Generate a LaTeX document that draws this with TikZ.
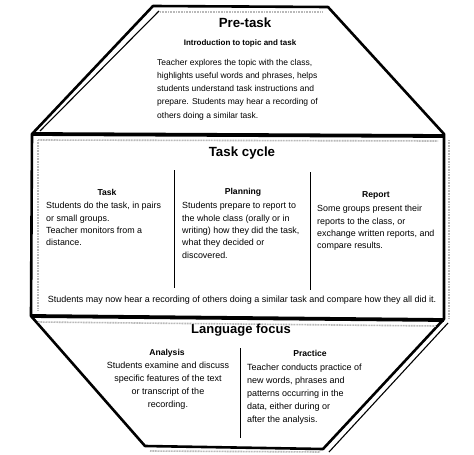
\documentclass[tikz,border=0pt]{standalone}
\usepackage{fontspec}
\setmainfont{Liberation Sans}
\begin{document}
\begin{tikzpicture}[x=1pt,y=1pt,yscale=-1,xscale=1,
    outline/.style={line width=2.6pt, line join=round},
    bar/.style={line width=3.8pt},
    shade/.style={color=gray!55, line width=1.6pt, dash pattern={on 1pt off 0.6pt}},
    thinline/.style={line width=1.1pt},
    divider/.style={line width=0.7pt},
    stagehead/.style={font=\fontsize{13.3}{15}\selectfont\bfseries, inner sep=0},
    subhead/.style={font=\fontsize{8.6}{10}\selectfont\bfseries, inner sep=0},
    bodytext/.style={font=\fontsize{8.5}{13.2}\selectfont, align=left, inner sep=0, anchor=north west},
    cyclebody/.style={bodytext, font=\fontsize{8.9}{12.4}\selectfont},
    focusbody/.style={bodytext, font=\fontsize{9}{12.9}\selectfont}]
        \useasboundingbox (0,0) rectangle (474,455);
        % octagon outline
        \draw [outline] (153,6) -- (328,7) -- (444,134) -- (444,319) -- (323,449) -- (145,446) -- (31,316) -- (32,134) -- cycle ;
        % task cycle box, top and bottom bars
        \draw [bar] (32,134) -- (444,136) ;
        \draw [bar] (31,316) -- (444,320) ;
        % second lines along some edges
        \draw [thinline] (159,11) -- (40,131) ;
        \draw [thinline] (448,323) -- (329,452) ;
        % grey shadow stripes
        \draw [shade] (160,12) -- (322,12) ;
        \draw [shade] (38,140) -- (438,141) ;
        \draw [shade] (38,140) -- (38,311) ;
        \draw [shade] (449,140) -- (449,318) ;
        \draw [shade] (38,322) -- (436,326) ;
        \draw [shade] (150,451) -- (320,452) ;
        % column dividers
        \coordinate (d1top) at (174,170);
        \coordinate (d1bot) at (174,288);
        \coordinate (d2top) at (310,172);
        \coordinate (d2bot) at (310,290);
        \coordinate (d3top) at (240,348);
        \coordinate (d3bot) at (240,438);
        \draw [divider] (d1top) -- (d1bot) ;
        \draw [divider] (d2top) -- (d2bot) ;
        \draw [divider] (d3top) -- (d3bot) ;
        % pre-task
        \draw (245,23) node (pretask) [stagehead] {Pre-task};
        \draw (240,43) node (intro) [subhead, font=\fontsize{8}{10}\selectfont\bfseries] {Introduction to topic and task};
        \draw (157,59) node (introtext) [bodytext] {Teacher explores the topic with the class,\\highlights useful words and phrases, helps\\students understand task instructions and\\prepare. Students may hear a recording of\\others doing a similar task.};
        % task cycle
        \draw (242,153) node (taskcycle) [stagehead] {Task cycle};
        \draw (107,192) node (task) [subhead] {Task};
        \draw (46,202) node (tasktext) [cyclebody] {Students do the task, in pairs\\or small groups.\\Teacher monitors from a\\distance.};
        \draw (243,192) node (planning) [subhead] {Planning};
        \draw (182,202) node (planningtext) [cyclebody] {Students prepare to report to\\the whole class (orally or in\\writing) how they did the task,\\what they decided or\\discovered.};
        \draw (376,195) node (report) [subhead] {Report};
        \draw (317,205) node (reporttext) [cyclebody] {Some groups present their\\reports to the class, or\\exchange written reports, and\\compare results.};
        \draw (242,300) node (recording) [focusbody, anchor=center] {Students may now hear a recording of others doing a similar task and compare how they all did it.};
        % language focus
        \draw (241,330) node (langfocus) [stagehead, font=\fontsize{13}{15}\selectfont\bfseries] {Language focus};
        \draw (167,353) node (analysis) [subhead] {Analysis};
        \draw (168,362) node (analysistext) [focusbody, align=center, anchor=north] {Students examine and discuss\\specific features of the text\\or transcript of the\\recording.};
        \draw (310,353) node (practice) [subhead] {Practice};
        \draw (247,364) node (practicetext) [focusbody] {Teacher conducts practice of\\new words, phrases and\\patterns occurring in the\\data, either during or\\after the analysis.};
    \end{tikzpicture}
\end{document}
